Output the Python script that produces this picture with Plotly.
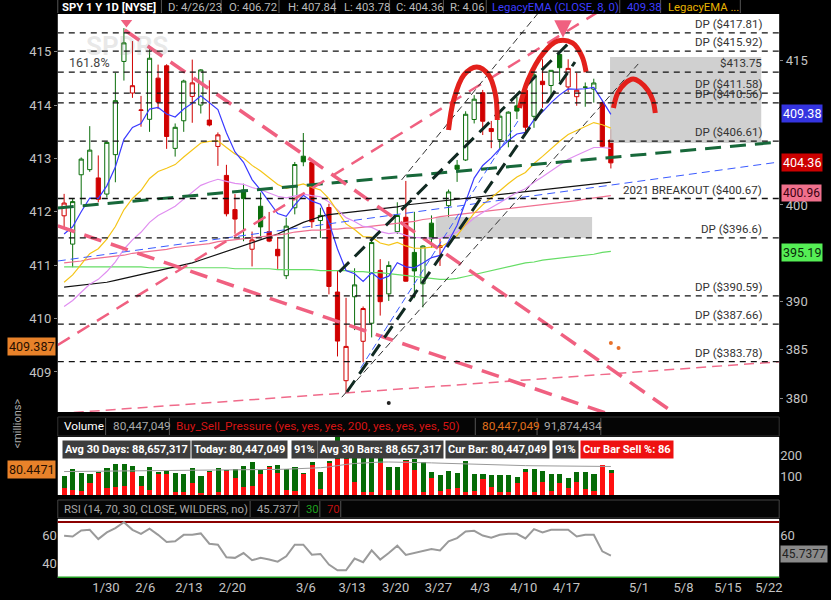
import plotly.graph_objects as go

W, H = 831, 600
def fx(px): return px / W
def fy(py): return 1 - py / H

# ---------------- data ----------------
bar_idx = list(range(65))
prev_close_start = 400.63
opens = [398.88, 395.95, 403.13, 403.66, 402.80, 401.13, 405.21, 414.86, 411.59, 409.79,
         408.87, 413.13, 414.41, 405.86, 408.72, 411.24, 410.35, 408.79, 406.06, 403.06,
         399.52, 401.56, 395.42, 399.87, 397.23, 395.41, 392.68, 399.71, 405.05, 404.42,
         398.39, 399.74, 390.99, 381.81, 390.50, 385.89, 387.76, 393.22, 390.80, 397.24,
         398.73, 395.09, 391.84, 398.12, 395.77, 399.93, 404.11, 404.66, 408.85, 411.62,
         407.91, 406.77, 406.61, 410.26, 411.87, 409.18, 412.81, 412.37, 415.58, 412.22,
         411.21, 412.19, 411.99, 410.58, 406.72]
highs = [401.15, 400.70, 404.92, 408.16, 405.13, 406.53, 413.67, 418.31, 416.97, 411.29,
         416.49, 414.53, 414.57, 408.44, 412.97, 415.05, 414.06, 412.91, 407.51, 404.16,
         401.13, 402.20, 397.25, 401.29, 399.28, 396.69, 398.69, 404.45, 407.45, 404.67,
         399.71, 400.13, 393.16, 390.39, 393.45, 389.49, 396.47, 394.40, 394.17, 400.28,
         402.49, 399.29, 395.84, 398.92, 396.49, 401.60, 404.66, 409.70, 411.37, 411.91,
         408.70, 409.48, 409.69, 411.18, 412.17, 413.84, 415.09, 413.96, 415.72, 415.08,
         413.70, 412.68, 413.07, 410.82, 407.84]
lows = [397.64, 393.56, 400.03, 403.44, 400.28, 400.77, 402.35, 412.88, 411.09, 408.10,
        407.57, 409.93, 405.81, 405.01, 407.57, 408.51, 409.47, 408.14, 404.05, 398.82,
        397.02, 396.25, 393.64, 396.75, 396.15, 393.38, 392.33, 399.03, 404.01, 397.63,
        396.59, 390.75, 384.32, 380.65, 387.05, 383.71, 386.29, 388.55, 390.07, 397.00,
        392.07, 390.35, 389.40, 395.56, 393.69, 398.68, 402.39, 404.55, 408.44, 407.24,
        405.88, 405.68, 405.97, 408.89, 407.44, 407.99, 410.06, 411.08, 412.78, 411.70,
        410.27, 410.17, 410.60, 405.98, 403.78]
closes = [400.20, 400.35, 404.75, 405.68, 400.59, 406.48, 410.80, 416.78, 412.35, 409.83,
          415.19, 410.65, 407.09, 408.04, 412.83, 412.64, 413.98, 408.28, 407.26, 399.09,
          398.54, 400.66, 396.38, 397.73, 396.26, 394.74, 397.81, 404.19, 404.47, 398.27,
          398.92, 391.56, 385.91, 385.36, 391.73, 389.28, 396.11, 389.99, 393.74, 398.91,
          392.11, 393.17, 395.75, 396.49, 395.60, 401.35, 403.70, 409.39, 410.95, 408.67,
          407.60, 409.19, 409.61, 409.72, 408.05, 413.47, 412.46, 413.94, 414.21, 414.14,
          411.88, 412.20, 412.63, 406.08, 404.36]

ema8 = [397.00, 397.74, 399.30, 400.72, 400.69, 401.98, 403.94, 406.79, 408.03, 408.43,
        409.93, 410.09, 409.42, 409.11, 409.94, 410.54, 411.30, 410.63, 409.88, 407.48,
        405.49, 404.42, 402.63, 401.54, 400.37, 399.12, 398.83, 400.02, 401.01, 400.40,
        400.07, 398.18, 395.45, 393.21, 392.88, 392.08, 392.98, 392.31, 392.63, 394.03,
        393.60, 393.50, 394.00, 394.55, 394.78, 396.24, 397.90, 400.45, 402.78, 404.09,
        404.87, 405.83, 406.67, 407.35, 407.51, 408.83, 409.64, 410.60, 411.40, 412.01,
        411.98, 412.03, 412.16, 410.81, 409.38]
ema21 = [392.00, 392.76, 393.86, 394.96, 395.47, 396.47, 397.77, 399.50, 400.67, 401.50,
         402.75, 403.47, 403.80, 404.18, 404.97, 405.67, 406.42, 406.59, 406.65, 405.96,
         405.29, 404.87, 404.10, 403.52, 402.86, 402.12, 401.73, 401.95, 402.18, 401.83,
         401.56, 400.65, 399.31, 398.04, 397.47, 396.73, 396.67, 396.06, 395.85, 396.13,
         395.76, 395.52, 395.54, 395.63, 395.63, 396.15, 396.84, 397.98, 399.16, 400.02,
         400.71, 401.48, 402.22, 402.90, 403.37, 404.29, 405.03, 405.84, 406.60, 407.29,
         407.71, 408.12, 408.53, 408.31, 407.95]
ma_violet = [389.50, 390.12, 390.96, 391.80, 392.30, 393.11, 394.12, 395.42, 396.39, 397.17,
             398.20, 398.91, 399.38, 399.87, 400.61, 401.30, 402.03, 402.38, 402.66, 402.45,
             402.23, 402.14, 401.81, 401.58, 401.28, 400.90, 400.73, 400.93, 401.13, 400.97,
             400.85, 400.32, 399.50, 398.69, 398.29, 397.78, 397.68, 397.24, 397.04, 397.15,
             396.86, 396.65, 396.60, 396.59, 396.54, 396.81, 397.20, 397.90, 398.65, 399.22,
             399.70, 400.24, 400.78, 401.29, 401.67, 402.35, 402.92, 403.55, 404.16, 404.73,
             405.14, 405.54, 405.95, 405.95, 405.86]
ma_pink = [394.0, 394.1, 394.2, 394.4, 394.5, 394.6, 394.7, 394.8, 395.0, 395.1,
           395.2, 395.3, 395.4, 395.6, 395.7, 395.8, 395.9, 396.0, 396.2, 396.3,
           396.4, 396.5, 396.6, 396.7, 396.8, 396.9, 397.0, 397.2, 397.3, 397.4,
           397.4, 397.5, 397.5, 397.6, 397.6, 397.7, 397.8, 397.9, 398.0, 398.1,
           398.2, 398.3, 398.5, 398.6, 398.8, 398.9, 399.0, 399.1, 399.2, 399.3,
           399.4, 399.5, 399.6, 399.7, 399.8, 399.9, 400.0, 400.1, 400.2, 400.3,
           400.45, 400.6, 400.7, 400.85, 400.96]
ma_black = [391.5, 391.6, 391.7, 391.8, 391.9, 392.0, 392.2, 392.4, 392.6, 392.8,
            393.0, 393.2, 393.4, 393.6, 393.8, 394.0, 394.3, 394.6, 394.9, 395.2,
            395.5, 395.8, 396.1, 396.4, 396.7, 397.0, 397.4, 397.8, 398.2, 398.5,
            398.8, 399.0, 399.1, 399.2, 399.3, 399.4, 399.5, 399.6, 399.7, 399.8,
            400.0, 400.1, 400.2, 400.3, 400.4, 400.5, 400.6, 400.7, 400.8, 400.9,
            401.0, 401.1, 401.2, 401.3, 401.4, 401.5, 401.6, 401.7, 401.8, 401.9,
            402.0, 402.1, 402.2, 402.3, 402.37]
ma_green = [393.6, 393.6, 393.6, 393.6, 393.6, 393.6, 393.6, 393.6, 393.6, 393.6,
            393.5, 393.5, 393.5, 393.5, 393.5, 393.5, 393.5, 393.5, 393.5, 393.5,
            393.4, 393.4, 393.4, 393.4, 393.4, 393.3, 393.3, 393.3, 393.3, 393.3,
            393.2, 393.2, 393.2, 393.2, 393.1, 393.1, 393.0, 393.0, 392.9, 392.8,
            392.7, 392.6, 392.5, 392.4, 392.3, 392.3, 392.4, 392.6, 392.8, 393.0,
            393.2, 393.4, 393.6, 393.8, 394.0, 394.1, 394.3, 394.4, 394.5, 394.6,
            394.7, 394.8, 394.9, 395.1, 395.19]

vol_total = [61.2, 83.7, 71.9, 67.6, 75.1, 88.0, 99.8, 99.8, 93.4, 61.2,
             91.3, 75.1, 77.3, 71.9, 66.5, 85.9, 61.2, 78.4, 85.9, 80.5,
             82.6, 93.4, 106.3, 80.5, 93.4, 96.6, 83.7, 89.1, 71.9, 106.3,
             75.1, 109.5, 186.0, 160.0, 118.1, 118.1, 135.0, 150.0, 91.3, 91.3,
             112.0, 114.9, 107.3, 75.1, 64.4, 78.4, 71.9, 110.5, 67.6, 67.6,
             64.4, 64.4, 64.4, 58.9, 82.6, 83.7, 78.4, 67.6, 66.5, 55.8,
             75.1, 73.0, 66.5, 96.6, 80.5]
vol_sell = [21.5, 16.1, 12.9, 39.7, 69.8, 21.5, 26.8, 29.0, 75.1, 29.0,
            16.1, 67.6, 66.5, 10.7, 10.7, 37.6, 5.4, 75.1, 10.7, 78.4,
            55.8, 26.8, 29.0, 66.5, 91.3, 69.8, 16.1, 12.9, 66.5, 96.6,
            18.3, 102.0, 114.9, 114.9, 42.9, 10.7, 10.7, 102.0, 16.1, 16.1,
            110.5, 80.5, 10.7, 55.8, 13.9, 18.3, 21.5, 10.7, 13.9, 50.5,
            26.8, 10.7, 10.7, 39.7, 75.1, 10.7, 42.9, 13.9, 37.6, 21.5,
            42.9, 18.3, 13.9, 96.6, 69.8]
vol_avg = [75.5, 75.7, 75.9, 76.1, 76.3, 76.5, 76.8, 77.1, 77.4, 77.6,
           77.8, 78.0, 78.2, 78.4, 78.6, 78.8, 79.0, 79.2, 79.4, 79.6,
           79.9, 80.3, 80.8, 81.3, 81.9, 82.5, 83.2, 84.0, 85.0, 86.2,
           87.8, 90.5, 95.0, 98.5, 101.5, 103.5, 105.0, 106.0, 106.3, 106.2,
           105.8, 105.2, 104.4, 103.5, 102.5, 101.5, 100.5, 99.6, 98.8, 98.0,
           97.2, 96.5, 95.8, 95.2, 94.6, 94.1, 93.6, 93.2, 92.9, 92.6,
           92.4, 92.2, 92.0, 91.9, 91.87]
rsi = [60.0, 59.5, 63.8, 64.3, 57.6, 62.4, 65.5, 69.8, 64.3, 61.4,
       65.2, 60.7, 55.5, 56.0, 60.7, 60.7, 61.7, 54.3, 53.6, 44.5,
       44.1, 47.6, 42.4, 44.1, 42.9, 41.4, 45.2, 53.6, 53.6, 46.4,
       46.9, 39.3, 35.2, 35.2, 43.6, 41.0, 49.5, 42.9, 47.6, 52.9,
       46.2, 47.6, 49.5, 50.5, 49.5, 56.0, 58.3, 63.1, 63.6, 60.2,
       58.6, 60.7, 61.4, 61.4, 58.1, 64.8, 62.4, 64.3, 64.3, 64.3,
       59.5, 60.7, 60.7, 48.8, 45.74]

tick_pos = [4.9, 9.5, 14.6, 19.7, 28.3, 33.7, 38.8, 43.8, 48.7, 53.8, 58.8, 67.3, 72.5, 77.7, 82.5]
tick_labels = ["1/30", "2/6", "2/13", "2/20", "3/6", "3/13", "3/20", "3/27", "4/3", "4/10",
               "4/17", "5/1", "5/8", "5/15", "5/22"]
price_ticks_right = [380, 385, 390, 400, 415]
price_ticks_left = [409, 410, 411, 412, 413, 414, 415]

dp_levels = [417.81, 415.92, 413.75, 411.58, 410.56, 406.61, 400.67, 396.6, 390.59, 387.66, 383.78]
dp_labels = ["DP ($417.81)", "DP ($415.92)", "$413.75", "DP ($411.58)", "DP ($410.56)",
             "DP ($406.61)", "2021 BREAKOUT ($400.67)", "DP ($396.6)", "DP ($390.59)",
             "DP ($387.66)", "DP ($383.78)"]

zone_big = (63.9, 81.6, 406.42, 415.32)
zone_small = (43.5, 61.8, 396.6, 398.76)

# trend lines in bar index / price
tl_pink_a = ([7.08, 70.9], [418.12, 378.78])
tl_pink_b = ([-0.74, 64.3], [397.83, 378.2])
tl_pink_c = ([-0.74, 62.5], [385.51, 419.98])
tl_pink_d = ([-0.74, 83.7], [378.4, 383.77])
tl_green = ([-0.74, 83.7], [399.69, 406.52])
tl_blue = ([-0.74, 83.7], [394.2, 404.45])
tl_blk1 = ([32.2, 59.2], [393.06, 416.87])
tl_blk2 = ([33.1, 59.8], [380.64, 414.8])
tl_thin1 = ([32.5, 67.2], [380.1, 414.6])
tl_thin2 = ([34.7, 53.2], [383.1, 408.8])
tl_thin3 = ([39.5, 55.5], [402.59, 419.88])

arc_ls = ([45.0, 45.6, 46.8, 48.3, 49.7, 50.5, 50.7], [407.76, 410.87, 413.46, 414.29, 413.46, 411.39, 408.8])
arc_head = ([53.3, 54.3, 56.1, 57.8, 59.5, 60.6, 61.1], [410.04, 412.94, 415.73, 416.98, 416.77, 415.42, 413.77])
arc_rs = ([64.3, 64.8, 65.7, 66.6, 67.4, 68.3, 68.9, 69.2], [410.04, 411.59, 412.63, 413.04, 412.73, 411.9, 410.87, 409.52])

orange_dots = ([64.0, 64.9], [385.71, 385.2])
black_dot = ([38.0], [379.5])

# ---------------- figure ----------------
GREEN_C = "#0b6e0b"
RED_C = "#d00000"
TXT = "Roboto, Liberation Sans, Arial, sans-serif"
fig = go.Figure()

prev = [prev_close_start] + closes[:-1]
up = [c >= p for c, p in zip(closes, prev)]

def sub(vals, mask):
    return [v for v, m in zip(vals, mask) if m]

for mask, col in ((up, GREEN_C), ([not u for u in up], RED_C)):
    fig.add_trace(go.Candlestick(
        x=sub(bar_idx, mask), open=sub(opens, mask), high=sub(highs, mask),
        low=sub(lows, mask), close=sub(closes, mask),
        increasing=dict(line=dict(color=col, width=1), fillcolor="white"),
        decreasing=dict(line=dict(color=col, width=1), fillcolor=col),
        whiskerwidth=0, xaxis="x", yaxis="y", showlegend=False, hoverinfo="skip"))

def line(xs, ys, color, width, dash=None, shape="linear", axis=("x", "y")):
    fig.add_trace(go.Scatter(x=xs, y=ys, mode="lines", xaxis=axis[0], yaxis=axis[1],
                             line=dict(color=color, width=width, dash=dash, shape=shape),
                             showlegend=False, hoverinfo="skip"))

for (x0, x1, y0, y1) in (zone_big, zone_small):
    fig.add_trace(go.Scatter(x=[x0, x1, x1, x0, x0], y=[y0, y0, y1, y1, y0], fill="toself",
                             fillcolor="rgba(200,200,200,0.85)", line=dict(width=0),
                             mode="lines", xaxis="x", yaxis="y", showlegend=False, hoverinfo="skip"))

line(bar_idx, ma_green, "#66dd66", 1.2)
line(bar_idx, ma_black, "#111111", 1.2)
line(bar_idx, ma_pink, "#f07090", 1.2)
line(bar_idx, ma_violet, "#e08ef0", 1.2)
line(bar_idx, ema21, "#f5c518", 1.2)
line(bar_idx, ema8, "#3a3aff", 1.2)

line(*tl_pink_d, "#f06a8a", 1.5, "10px,6px")
line(*tl_blue, "#3a5aff", 1, "8px,5px")
line(*tl_green, "#17683a", 3, "16px,9px")
line(*tl_pink_a, "#f06080", 3.5, "18px,10px")
line(*tl_pink_b, "#f06080", 3.5, "18px,10px")
line(*tl_pink_c, "#f06080", 2.5, "14px,9px")
line(*tl_thin1, "#333333", 1, "7px,4px")
line(*tl_thin2, "#3a5aff", 1, "7px,4px")
line(*tl_thin3, "#333333", 1, "7px,4px")
line(*tl_blk1, "#112a22", 3, "14px,8px")
line(*tl_blk2, "#112a22", 3, "14px,8px")

for arc in (arc_ls, arc_head, arc_rs):
    line(*arc, "#e3201b", 5, None, "spline")

fig.add_trace(go.Scatter(x=orange_dots[0], y=orange_dots[1], mode="markers", xaxis="x", yaxis="y",
                         marker=dict(color="#e8702a", size=4), showlegend=False, hoverinfo="skip"))
fig.add_trace(go.Scatter(x=black_dot[0], y=black_dot[1], mode="markers", xaxis="x", yaxis="y",
                         marker=dict(color="#222", size=4), showlegend=False, hoverinfo="skip"))
fig.add_trace(go.Scatter(x=[7.3], y=[418.9], mode="markers", xaxis="x", yaxis="y",
                         marker=dict(color="#f06080", size=10, symbol="triangle-down"),
                         showlegend=False, hoverinfo="skip"))

fig.add_trace(go.Bar(x=bar_idx, y=vol_total, marker=dict(color="#066b06", line=dict(width=0)),
                     width=0.6, xaxis="x2", yaxis="y3", showlegend=False, hoverinfo="skip"))
fig.add_trace(go.Bar(x=bar_idx, y=vol_sell, marker=dict(color="#ff1010", line=dict(width=0)),
                     width=0.6, xaxis="x2", yaxis="y3", showlegend=False, hoverinfo="skip"))
line(bar_idx, vol_avg, "#9a9a9a", 1, axis=("x2", "y3"))

line([-1, 90], [70, 70], "#8b0000", 2, axis=("x3", "y5"))
line([-1, 90], [30, 30], "#1f9a1f", 2, axis=("x3", "y5"))
line(bar_idx, rsi, "#9a9a9a", 2, axis=("x3", "y5"))

shapes = []
annotations = []

for lvl, lab in zip(dp_levels, dp_labels):
    shapes.append(dict(type="line", xref="x domain", yref="y", x0=0, x1=1, y0=lvl, y1=lvl,
                       line=dict(color="#111", width=1.3, dash="6px,5px"), layer="above"))
    annotations.append(dict(xref="paper", yref="y", x=fx(767), y=lvl, text=lab, showarrow=False,
                            xanchor="right", yanchor="bottom", yshift=0,
                            font=dict(size=11.5, color="#333", family=TXT)))

def txt(x, y, s, color="#bbb", size=12, anchor="left", bold=False, bg=None, pad=1, yanchor="middle"):
    annotations.append(dict(xref="paper", yref="paper", x=fx(x), y=fy(y), text=("<b>%s</b>" % s) if bold else s,
                            showarrow=False, xanchor=anchor, yanchor=yanchor,
                            font=dict(size=size, color=color, family=TXT),
                            bgcolor=bg, borderpad=pad))

def vsep(x, y0, y1, color="#555"):
    shapes.append(dict(type="line", xref="paper", yref="paper", x0=fx(x), x1=fx(x), y0=fy(y0), y1=fy(y1),
                       line=dict(color=color, width=1)))

hdr = [("SPY 1 Y 1D [NYSE]", "#ffffff", 60, True), ("D: 4/26/23", "#bbbbbb", 167, False),
       ("O: 406.72", "#bbbbbb", 228, False), ("H: 407.84", "#bbbbbb", 287, False),
       ("L: 403.78", "#bbbbbb", 343, False), ("C: 404.36", "#bbbbbb", 395, False),
       ("R: 4.06", "#bbbbbb", 450, False), ("LegacyEMA (CLOSE, 8, 0)", "#3d3dff", 492, False),
       ("409.38", "#3d3dff", 627, False), ("LegacyEMA ...", "#e8b300", 668, False)]
for s, c, x, b in hdr:
    txt(x, 7, s, c, 11.3, bold=b)
for x in (58, 162, 222, 280, 336, 391, 445, 488, 622, 663, 743):
    vsep(x, 0, 13)

shapes.append(dict(type="rect", xref="paper", yref="paper", x0=fx(58), x1=fx(782), y0=fy(436), y1=fy(417),
                   line=dict(color="#333", width=1), fillcolor="#050505"))
vh = [("Volume", "#ffffff", 62), ("80,447,049", "#a8a8a8", 111),
      ("Buy_Sell_Pressure (yes, yes, yes, 200, yes, yes, yes, 50)", "#d61414", 175),
      ("80,447,049", "#e0701c", 482), ("91,874,434", "#a8a8a8", 544)]
for s, c, x in vh:
    txt(x, 426, s, c, 11.8)
for x in (106, 170, 477, 539, 603):
    vsep(x, 418, 435)

vb = [("Avg 30 Days: 88,657,317", 62, "#3d3d3d"), ("Today: 80,447,049", 192, "#3d3d3d"),
      ("91%", 292, "#3d3d3d"), ("Avg 30 Bars: 88,657,317", 318, "#3d3d3d"),
      ("Cur Bar: 80,447,049", 447, "#3d3d3d"), ("91%", 554, "#3d3d3d"),
      ("Cur Bar Sell %: 86", 582, "#ee1111")]
for s, x, bg in vb:
    txt(x, 449.5, s, "#ffffff", 11, bold=True, bg=bg, pad=2)

shapes.append(dict(type="rect", xref="paper", yref="paper", x0=fx(58), x1=fx(782), y0=fy(518), y1=fy(500),
                   line=dict(color="#444", width=1), fillcolor="#050505"))
rh = [("RSI (14, 70, 30, CLOSE, WILDERS, no)", "#a8a8a8", 62), ("45.7377", "#a8a8a8", 256),
      ("30", "#1fa01f", 305), ("70", "#c01010", 326)]
for s, c, x in rh:
    txt(x, 509, s, c, 11.3)
for x in (251, 300, 321, 342):
    vsep(x, 501, 517)

txt(784, 114, "409.38", "#ffffff", 12.5, bg="#3434e0", pad=1)
txt(784, 162, "404.36", "#ffffff", 12.5, bg="#cc0000", pad=1)
txt(784, 193, "400.96", "#3a0010", 12, bg="#f0708c", pad=1)
txt(784, 253, "395.19", "#0a2a0a", 12.5, bg="#55ee55", pad=1)
txt(783, 554, "45.7377", "#222222", 12, bg="#8a8a8a", pad=1)
txt(56, 346, "409.387", "#2a1000", 12.5, bg="#e8822a", pad=1, anchor="right")
txt(56, 469, "80.4471", "#2a1000", 12.5, bg="#e8822a", pad=1, anchor="right")
annotations.append(dict(xref="paper", yref="paper", x=fx(9), y=fy(450), text="<millions>", textangle=-90,
                        showarrow=False, font=dict(size=11, color="#aaa", family=TXT)))

txt(67, 63, "161.8%", "#444444", 12.5)
txt(84, 46, "SPDRS", "rgba(150,150,150,0.22)", 26, bold=True)

annotations.append(dict(xref="x", yref="y", x=58.4, y=417.3, ax=0, ay=-18, showarrow=True,
                        arrowhead=2, arrowsize=1, arrowwidth=3.5, arrowcolor="#f06080", text=""))

common_x = dict(domain=[fx(58), fx(782)], range=[-0.74, 83.7], showgrid=False, zeroline=False,
                showticklabels=False, ticks="", showline=False, fixedrange=True)
axfont = dict(size=13, color="#c4c4c4", family=TXT)

fig.update_layout(
    width=W, height=H, margin=dict(l=0, r=0, t=0, b=0),
    paper_bgcolor="#000000", plot_bgcolor="#ffffff",
    barmode="overlay", bargap=0,
    font=dict(family=TXT),
    xaxis=dict(**common_x, anchor="y", rangeslider=dict(visible=False)),
    yaxis=dict(domain=[fy(412), fy(14)], range=[378.57, 419.77], side="right", anchor="x",
               tickvals=price_ticks_right, showgrid=False, zeroline=False,
               tickfont=axfont, ticks="outside", ticklen=3, tickcolor="#888"),
    yaxis2=dict(overlaying="y", range=[408.25, 415.71], side="left", anchor="x",
                tickvals=price_ticks_left, showgrid=False, zeroline=False,
                tickfont=axfont, ticks="outside", ticklen=3, tickcolor="#888"),
    xaxis2=dict(**common_x, anchor="y3", matches="x"),
    yaxis3=dict(domain=[fy(495), fy(437)], range=[0, 186.8], anchor="x2", showticklabels=False,
                showgrid=False, zeroline=False),
    yaxis4=dict(overlaying="y3", range=[9.5, 285.7], side="right", anchor="x2",
                tickvals=[100, 200], showgrid=False, zeroline=False, tickfont=axfont),
    xaxis3=dict(domain=[fx(58), fx(782)], range=[-0.74, 83.7], matches="x", anchor="y5",
                tickvals=tick_pos, ticktext=tick_labels, showgrid=False, zeroline=False,
                tickfont=axfont, ticks="", showline=False),
    yaxis5=dict(domain=[fy(578), fy(519)], range=[29.6, 72.1], anchor="x3", side="left",
                tickvals=[40, 60], showgrid=False, zeroline=False, tickfont=axfont),
    yaxis6=dict(overlaying="y5", range=[29.6, 72.1], anchor="x3", side="right",
                tickvals=[60], showgrid=False, zeroline=False, tickfont=axfont),
    shapes=shapes, annotations=annotations,
)
fig.add_trace(go.Scatter(x=[None], y=[None], xaxis="x", yaxis="y2", showlegend=False))
fig.add_trace(go.Scatter(x=[None], y=[None], xaxis="x2", yaxis="y4", showlegend=False))
fig.add_trace(go.Scatter(x=[None], y=[None], xaxis="x3", yaxis="y6", showlegend=False))

fig.write_html("out.html", config={"displayModeBar": False},
               post_script="document.body.style.margin='0px';document.body.style.background='#000';")
